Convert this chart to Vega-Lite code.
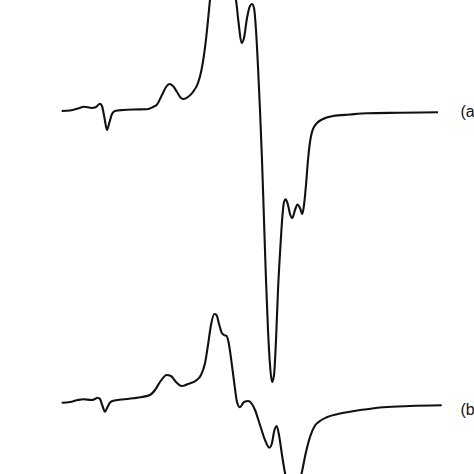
{
  "$schema": "https://vega.github.io/schema/vega-lite/v6.json",
  "width": 474,
  "height": 474,
  "padding": 0,
  "autosize": {"type": "none"},
  "background": "white",
  "config": {"view": {"stroke": null}},
  "datasets": {
    "spectra": [
      {"s":"a","x":61.7,"y":363},{"s":"a","x":70,"y":363.5},{"s":"a","x":78,"y":365.5},{"s":"a","x":84,"y":367.3},{"s":"a","x":91.7,"y":366},{"s":"a","x":96,"y":367},{"s":"a","x":100,"y":370.3},{"s":"a","x":102,"y":368},{"s":"a","x":104.5,"y":356},{"s":"a","x":107,"y":344},{"s":"a","x":109,"y":350},{"s":"a","x":112,"y":360},{"s":"a","x":115,"y":363},{"s":"a","x":123,"y":364},{"s":"a","x":133,"y":364.5},{"s":"a","x":147,"y":364.7},{"s":"a","x":153,"y":367},{"s":"a","x":157,"y":369.5},{"s":"a","x":162,"y":379},{"s":"a","x":166,"y":387},{"s":"a","x":169.5,"y":390},{"s":"a","x":173,"y":388},{"s":"a","x":177,"y":382},{"s":"a","x":181,"y":376},{"s":"a","x":183.5,"y":375},{"s":"a","x":188,"y":377},{"s":"a","x":193,"y":382},{"s":"a","x":198,"y":391},{"s":"a","x":201.5,"y":404},{"s":"a","x":204,"y":419},{"s":"a","x":206.5,"y":439},{"s":"a","x":208.5,"y":459},{"s":"a","x":210,"y":474},{"s":"a","x":212,"y":489},{"s":"a","x":216,"y":502},{"s":"a","x":222,"y":504},{"s":"a","x":228,"y":499},{"s":"a","x":233,"y":484},{"s":"a","x":236,"y":474},{"s":"a","x":238.5,"y":452},{"s":"a","x":241.5,"y":431},{"s":"a","x":244,"y":436},{"s":"a","x":247,"y":456},{"s":"a","x":250,"y":468},{"s":"a","x":252,"y":470},{"s":"a","x":254,"y":466},{"s":"a","x":256,"y":444},{"s":"a","x":258,"y":407},{"s":"a","x":260,"y":364},{"s":"a","x":262,"y":314},{"s":"a","x":264,"y":254},{"s":"a","x":266,"y":194},{"s":"a","x":268,"y":144},{"s":"a","x":270,"y":109},{"s":"a","x":272,"y":92},{"s":"a","x":274,"y":99},{"s":"a","x":276,"y":134},{"s":"a","x":278,"y":184},{"s":"a","x":280.5,"y":229},{"s":"a","x":282.5,"y":259},{"s":"a","x":284,"y":272},{"s":"a","x":285.7,"y":274.7},{"s":"a","x":288,"y":269},{"s":"a","x":290,"y":260},{"s":"a","x":292.3,"y":256},{"s":"a","x":295,"y":264},{"s":"a","x":297.5,"y":269.5},{"s":"a","x":300,"y":266},{"s":"a","x":302.3,"y":260},{"s":"a","x":304,"y":269},{"s":"a","x":306,"y":289},{"s":"a","x":308,"y":314},{"s":"a","x":310,"y":332},{"s":"a","x":312,"y":342},{"s":"a","x":314,"y":347},{"s":"a","x":317,"y":351},{"s":"a","x":322,"y":354.5},{"s":"a","x":333,"y":358},{"s":"a","x":350,"y":359.5},{"s":"a","x":367,"y":360.7},{"s":"a","x":400,"y":361.2},{"s":"a","x":438,"y":361.7},
      {"s":"b","x":61.7,"y":71.3},{"s":"b","x":70,"y":72},{"s":"b","x":78,"y":74},{"s":"b","x":83.3,"y":74.7},{"s":"b","x":91.7,"y":74},{"s":"b","x":95,"y":75},{"s":"b","x":97.7,"y":76.3},{"s":"b","x":100,"y":75},{"s":"b","x":102.5,"y":68},{"s":"b","x":105,"y":62.3},{"s":"b","x":107.5,"y":67},{"s":"b","x":110,"y":71.5},{"s":"b","x":113.3,"y":73.3},{"s":"b","x":122,"y":74.5},{"s":"b","x":133.3,"y":75.7},{"s":"b","x":142,"y":77},{"s":"b","x":150,"y":79},{"s":"b","x":155,"y":84},{"s":"b","x":160,"y":92},{"s":"b","x":166.7,"y":99},{"s":"b","x":171,"y":98},{"s":"b","x":176,"y":92},{"s":"b","x":181.7,"y":88},{"s":"b","x":188,"y":90},{"s":"b","x":196.7,"y":94},{"s":"b","x":201,"y":99},{"s":"b","x":205,"y":110.7},{"s":"b","x":208,"y":129},{"s":"b","x":211,"y":149},{"s":"b","x":214.3,"y":160},{"s":"b","x":216.5,"y":159},{"s":"b","x":219,"y":150},{"s":"b","x":221.7,"y":141.3},{"s":"b","x":224,"y":139},{"s":"b","x":226.7,"y":138},{"s":"b","x":228.5,"y":132},{"s":"b","x":231.7,"y":110.7},{"s":"b","x":234.5,"y":89},{"s":"b","x":237,"y":72},{"s":"b","x":240,"y":66.7},{"s":"b","x":244,"y":72},{"s":"b","x":248.3,"y":73},{"s":"b","x":252,"y":70},{"s":"b","x":255,"y":64},{"s":"b","x":260,"y":49},{"s":"b","x":265,"y":34},{"s":"b","x":269.3,"y":26.3},{"s":"b","x":272,"y":31},{"s":"b","x":274,"y":42},{"s":"b","x":276.7,"y":48},{"s":"b","x":279,"y":39},{"s":"b","x":282,"y":19},{"s":"b","x":285,"y":1},{"s":"b","x":289,"y":-14},{"s":"b","x":294,"y":-18},{"s":"b","x":299,"y":-11},{"s":"b","x":301.7,"y":1},{"s":"b","x":306,"y":22},{"s":"b","x":310,"y":37},{"s":"b","x":315,"y":48.5},{"s":"b","x":320,"y":53},{"s":"b","x":326.7,"y":56.7},{"s":"b","x":338,"y":60},{"s":"b","x":350,"y":62.3},{"s":"b","x":365,"y":64.5},{"s":"b","x":383.3,"y":66.7},{"s":"b","x":410,"y":68},{"s":"b","x":441.7,"y":68.7}
    ],
    "labels": [
      {"x":460.5,"y":362.5,"label":"(a)"},
      {"x":460.5,"y":64,"label":"(b)"}
    ]
  },
  "layer": [
    {
      "data": {"name": "spectra"},
      "mark": {"type": "line", "color": "#111111", "strokeWidth": 2.1, "interpolate": "monotone", "clip": true},
      "encoding": {
        "x": {"field": "x", "type": "quantitative", "scale": {"domain": [0, 474], "nice": false, "zero": false}, "axis": null},
        "y": {"field": "y", "type": "quantitative", "scale": {"domain": [0, 474], "nice": false, "zero": false}, "axis": null},
        "detail": {"field": "s"}
      }
    },
    {
      "data": {"name": "labels"},
      "mark": {"type": "text", "align": "left", "baseline": "middle", "font": "Liberation Sans", "fontSize": 16, "color": "#111111"},
      "encoding": {
        "x": {"field": "x", "type": "quantitative"},
        "y": {"field": "y", "type": "quantitative"},
        "text": {"field": "label"}
      }
    }
  ]
}
